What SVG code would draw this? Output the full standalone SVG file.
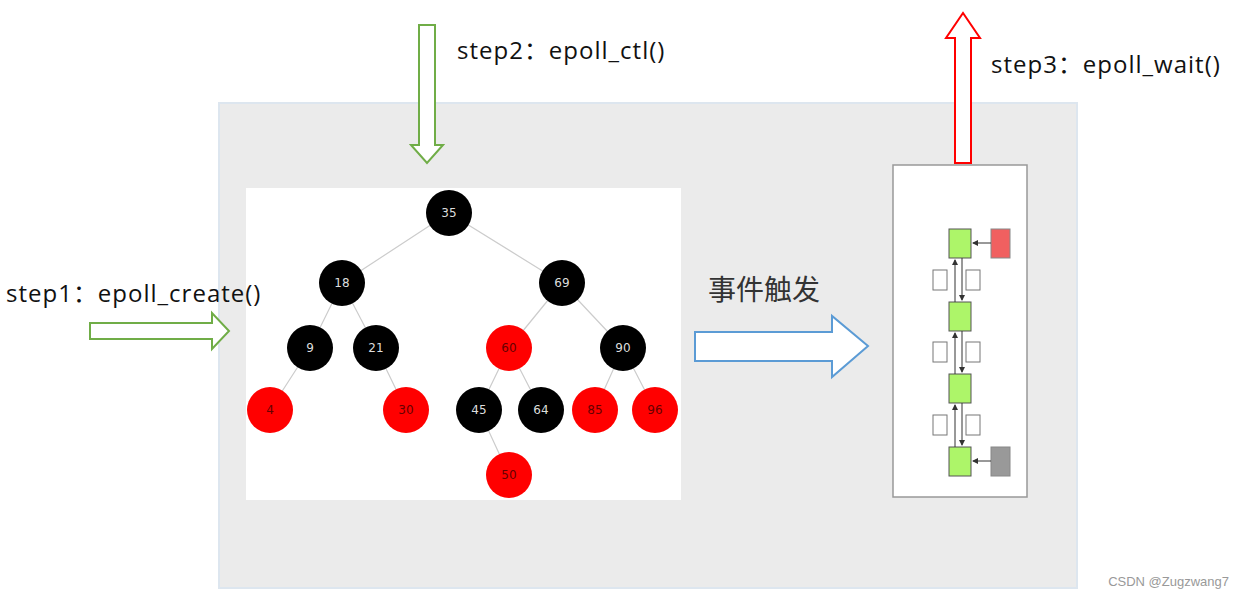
<svg xmlns="http://www.w3.org/2000/svg" width="1243" height="598" viewBox="0 0 1243 598">
<style>
.lbl{font-family:"Open Sans","Noto Sans CJK SC",sans-serif;font-size:24px;letter-spacing:1px;fill:#111}
.n{font-family:"DejaVu Sans",sans-serif;font-size:12px;text-anchor:middle}
.b circle{fill:#000}.b text{fill:#ddd}
.r circle{fill:#f00}.r text{fill:#600}
.e{stroke:#ccc;stroke-width:1.2}
.g{fill:#adf569;stroke:#555;stroke-width:1}
.s{fill:#fff;stroke:#777;stroke-width:1}
.ll{stroke:#333;stroke-width:1}
</style>
<defs><marker id="m" markerWidth="6" markerHeight="6" refX="5" refY="3" orient="auto"><path d="M0,0L6,3L0,6z" fill="#333"/></marker></defs>
<rect width="1243" height="598" fill="#fff"/>
<rect x="219" y="103" width="858" height="485" fill="#ebebeb" stroke="#dde6ef" stroke-width="2"/>
<rect x="246" y="188" width="435" height="312" fill="#fff"/>
<g id="connectors">
<path class="e" d="M449,213L342,283M449,213L562,283M342,283L310,348M342,283L376,348M562,283L509,348M562,283L623,348M310,348L270,410M376,348L406,410M509,348L479,410M509,348L541,410M623,348L595,410M623,348L655,410M479,410L509,475"/>
<path d="M419,25h16v120h8l-16,18l-16,-18h8z" fill="#fff" stroke="#70ad47" stroke-width="2"/>
<path d="M90,323h122v-10l17,18l-17,18v-10h-122z" fill="#fff" stroke="#70ad47" stroke-width="2"/>
<path d="M955,163v-125h-9l17,-25l17,25h-9v125z" fill="#fff" stroke="#f00" stroke-width="2"/>
<path d="M695,332h137v-16l36,30l-36,31v-16h-137z" fill="#fff" stroke="#5b9bd5" stroke-width="2"/>
</g>
<g id="tree">
<g class="b"><circle cx="449" cy="213" r="23"/><text class="n" x="449" y="217">35</text></g>
<g class="b"><circle cx="342" cy="283" r="23"/><text class="n" x="342" y="287">18</text></g>
<g class="b"><circle cx="562" cy="283" r="23"/><text class="n" x="562" y="287">69</text></g>
<g class="b"><circle cx="310" cy="348" r="23"/><text class="n" x="310" y="352">9</text></g>
<g class="b"><circle cx="376" cy="348" r="23"/><text class="n" x="376" y="352">21</text></g>
<g class="r"><circle cx="509" cy="348" r="23"/><text class="n" x="509" y="352">60</text></g>
<g class="b"><circle cx="623" cy="348" r="23"/><text class="n" x="623" y="352">90</text></g>
<g class="r"><circle cx="270" cy="410" r="23"/><text class="n" x="270" y="414">4</text></g>
<g class="r"><circle cx="406" cy="410" r="23"/><text class="n" x="406" y="414">30</text></g>
<g class="b"><circle cx="479" cy="410" r="23"/><text class="n" x="479" y="414">45</text></g>
<g class="b"><circle cx="541" cy="410" r="23"/><text class="n" x="541" y="414">64</text></g>
<g class="r"><circle cx="595" cy="410" r="23"/><text class="n" x="595" y="414">85</text></g>
<g class="r"><circle cx="655" cy="410" r="23"/><text class="n" x="655" y="414">96</text></g>
<g class="r"><circle cx="509" cy="475" r="23"/><text class="n" x="509" y="479">50</text></g>
</g>
<g id="list">
<rect x="893" y="165" width="134" height="332" fill="#fff" stroke="#999" stroke-width="1.5"/>
<rect class="g" x="949" y="229" width="22" height="29"/>
<rect class="g" x="949" y="302" width="22" height="29"/>
<rect class="g" x="949" y="374" width="22" height="29"/>
<rect class="g" x="949" y="447" width="22" height="29"/>
<rect x="991" y="229" width="19" height="29" fill="#f06060" stroke="#888"/>
<rect x="991" y="447" width="19" height="29" fill="#999" stroke="#888"/>
<line class="ll" x1="991" y1="243" x2="973" y2="243" marker-end="url(#m)"/>
<line class="ll" x1="991" y1="461" x2="973" y2="461" marker-end="url(#m)"/>
<line class="ll" x1="955" y1="302" x2="955" y2="260" marker-end="url(#m)"/>
<line class="ll" x1="955" y1="374" x2="955" y2="333" marker-end="url(#m)"/>
<line class="ll" x1="955" y1="447" x2="955" y2="405" marker-end="url(#m)"/>
<line class="ll" x1="962" y1="258" x2="962" y2="300" marker-end="url(#m)"/>
<line class="ll" x1="962" y1="331" x2="962" y2="372" marker-end="url(#m)"/>
<line class="ll" x1="962" y1="403" x2="962" y2="445" marker-end="url(#m)"/>
<rect class="s" x="933" y="270" width="14" height="20"/><rect class="s" x="966" y="270" width="14" height="20"/>
<rect class="s" x="933" y="342" width="14" height="20"/><rect class="s" x="966" y="342" width="14" height="20"/>
<rect class="s" x="933" y="415" width="14" height="20"/><rect class="s" x="966" y="415" width="14" height="20"/>
</g>
<text class="lbl" x="457" y="59">step2：epoll_ctl()</text>
<text class="lbl" x="6" y="302">step1：epoll_create()</text>
<text class="lbl" x="991" y="73">step3：epoll_wait()</text>
<text class="lbl" x="708" y="300" style="font-size:28px;letter-spacing:0;fill:#333">事件触发</text>
<text x="1229" y="586" text-anchor="end" style="font-family:'Liberation Sans',sans-serif;font-size:13px;fill:#999">CSDN @Zugzwang7</text>
</svg>
